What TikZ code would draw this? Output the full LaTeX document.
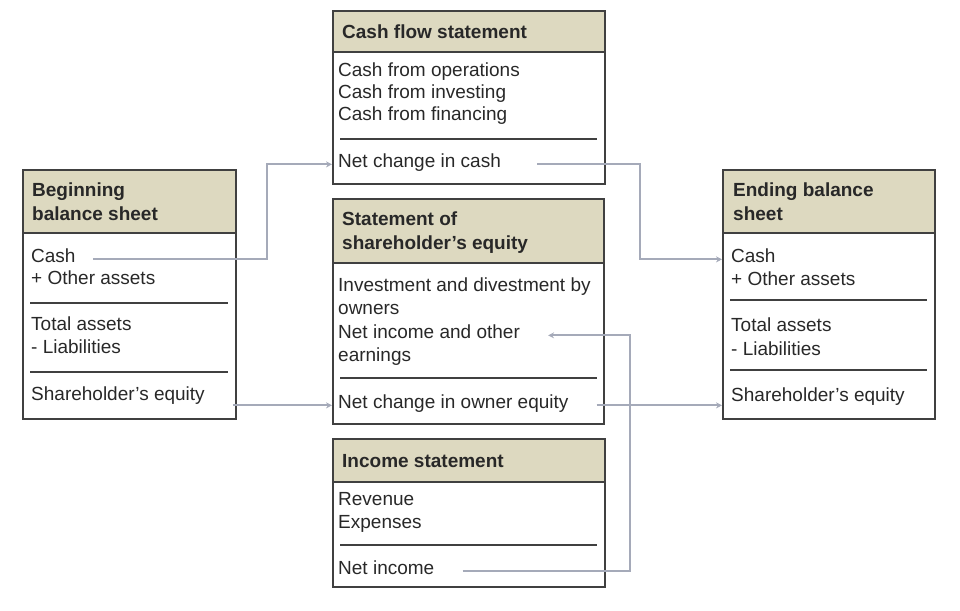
\documentclass[tikz,border=0pt]{standalone}
\usepackage{fontspec}
\setmainfont{Liberation Sans}
\usetikzlibrary{arrows.meta}
\definecolor{headfill}{RGB}{221,217,192}
\definecolor{boxline}{RGB}{64,64,64}
\definecolor{linkline}{RGB}{165,170,185}
\definecolor{txt}{RGB}{40,40,40}

\begin{document}
\begin{tikzpicture}[x=1pt,y=-1pt,
  box/.style={draw=boxline, line width=1.8pt, anchor=north west, inner sep=0pt},
  head/.style={fill=headfill, draw=boxline, line width=1.8pt, anchor=north west, inner sep=0pt},
  item/.style={anchor=base west, inner sep=0pt, text=txt, font=\fontsize{19}{23}\selectfont},
  title/.style={item, font=\fontsize{19}{23}\selectfont\bfseries},
  sep/.style={draw=boxline, line width=1.6pt},
  link/.style={draw=linkline, line width=2.2pt, -{Stealth[length=6pt,width=6pt]}}]
\useasboundingbox (0,0) rectangle (960,610);
\node[head, minimum width=272pt, minimum height=41pt] (cfHead) at (332,10) {};
\node[box, minimum width=272pt, minimum height=173pt] (cf) at (332,10) {};
\draw[sep] (340,139) -- (597,139);
\node[title] (cfT) at (342,38) {Cash flow statement};
\node[item] (cfOps) at (338,76) {Cash from operations};
\node[item] (cfInv) at (338,98) {Cash from investing};
\node[item] (cfFin) at (338,120) {Cash from financing};
\node[item] (cfNet) at (338,167) {Net change in cash};
\node[head, minimum width=213pt, minimum height=63pt] (bbHead) at (22,169) {};
\node[box, minimum width=213pt, minimum height=249pt] (bb) at (22,169) {};
\draw[sep] (30,303) -- (228,303);
\draw[sep] (30,372) -- (228,372);
\node[title] (bbT1) at (32,196) {Beginning};
\node[title] (bbT2) at (32,220) {balance sheet};
\node[item] (bCash) at (31,262) {Cash};
\node[item] (bOther) at (31,284) {+ Other assets};
\node[item] (bTotal) at (31,330) {Total assets};
\node[item] (bLiab) at (31,353) {- Liabilities};
\node[item] (bSE) at (31,400) {Shareholder's equity};
\node[head, minimum width=212pt, minimum height=63pt] (ebHead) at (722,169) {};
\node[box, minimum width=212pt, minimum height=249pt] (eb) at (722,169) {};
\draw[sep] (730,300) -- (927,300);
\draw[sep] (730,370) -- (927,370);
\node[title] (ebT1) at (733,196) {Ending balance};
\node[title] (ebT2) at (733,220) {sheet};
\node[item] (eCash) at (731,262) {Cash};
\node[item] (eOther) at (731,285) {+ Other assets};
\node[item] (eTotal) at (731,331) {Total assets};
\node[item] (eLiab) at (731,355) {- Liabilities};
\node[item] (eSE) at (731,401) {Shareholder's equity};
\node[head, minimum width=271pt, minimum height=64pt] (sseHead) at (332,198) {};
\node[box, minimum width=271pt, minimum height=225pt] (sse) at (332,198) {};
\draw[sep] (340,378) -- (597,378);
\node[title] (sseT1) at (342,225) {Statement of};
\node[title] (sseT2) at (342,249) {shareholder's equity};
\node[item] (sseInv) at (338,291) {Investment and divestment by};
\node[item] (sseOwn) at (338,314) {owners};
\node[item] (sseNi) at (338,338) {Net income and other};
\node[item] (sseEarn) at (338,361) {earnings};
\node[item] (sseNet) at (338,408) {Net change in owner equity};
\node[head, minimum width=272pt, minimum height=43pt] (isHead) at (332,438) {};
\node[box, minimum width=272pt, minimum height=148pt] (is) at (332,438) {};
\draw[sep] (340,545) -- (597,545);
\node[title] (isT) at (342,467) {Income statement};
\node[item] (isRev) at (338,505) {Revenue};
\node[item] (isExp) at (338,528) {Expenses};
\node[item] (isNet) at (338,574) {Net income};
\coordinate (bendL) at (267,0);
\coordinate (bendR) at (640,0);
\coordinate (bendI) at (630,0);
\draw[link] ([xshift=17pt]bCash.mid east) -| (bendL |- cfNet.mid) -- (cf.west |- cfNet.mid);
\draw[link] ([xshift=36pt]cfNet.mid east) -| (bendR |- eCash.mid) -- (eb.west |- eCash.mid);
\draw[link] ([xshift=-4pt]bb.east |- sseNet.mid) -- (sse.west |- sseNet.mid);
\draw[link] ([xshift=28pt]sseNet.mid east) -- (eb.west |- sseNet.mid);
\draw[link] ([xshift=28pt]isNet.mid east) -| (bendI |- sseNi.mid) -- ([xshift=28pt]sseNi.mid east);
\end{tikzpicture}
\end{document}
